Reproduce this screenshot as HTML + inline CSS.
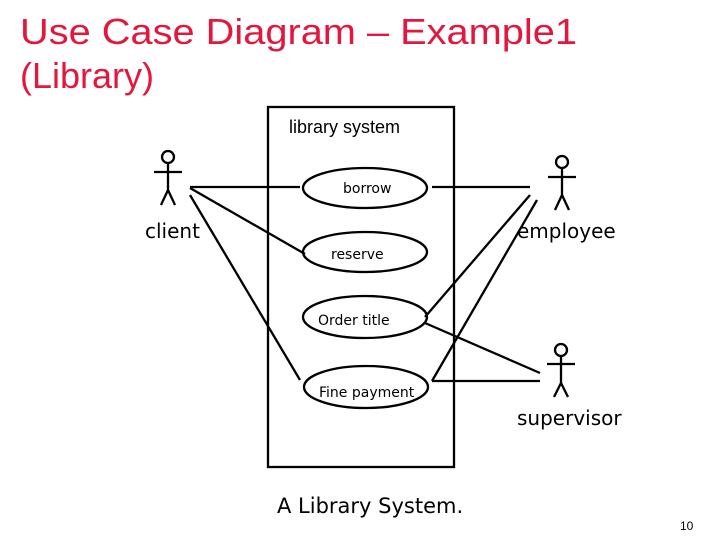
<!DOCTYPE html>
<html><head><meta charset="utf-8"><style>
html,body{margin:0;padding:0;background:#fff;width:720px;height:540px;overflow:hidden}
svg{display:block}
.lib{font-family:"Liberation Sans",Arial,sans-serif}
.dv{font-family:"DejaVu Sans",sans-serif}
</style></head><body>
<svg width="720" height="540" viewBox="0 0 720 540" xmlns="http://www.w3.org/2000/svg">
<g class="lib" fill="#e3173d" font-size="36" style="font-family:'Liberation Sans',Arial,sans-serif">
<text x="20" y="44" textLength="557" lengthAdjust="spacingAndGlyphs">Use Case Diagram – Example1</text>
<text x="20" y="88">(Library)</text>
</g>
<g stroke="#000" stroke-width="2.3" fill="none">
<rect x="268" y="107" width="186" height="360"/>
<ellipse cx="365" cy="188" rx="62" ry="20" fill="#fff"/>
<ellipse cx="365" cy="252" rx="62" ry="20" fill="#fff"/>
<ellipse cx="365" cy="317" rx="62" ry="21" fill="#fff"/>
<ellipse cx="366" cy="387" rx="62" ry="21" fill="#fff"/>
<line x1="190" y1="187" x2="300" y2="187"/>
<line x1="432" y1="187" x2="530" y2="187"/>
<line x1="190" y1="188" x2="305" y2="254"/>
<line x1="190" y1="195" x2="300" y2="380"/>
<line x1="530" y1="195" x2="425" y2="317"/>
<line x1="537" y1="200" x2="432" y2="381"/>
<line x1="425" y1="323" x2="540" y2="373"/>
<line x1="432" y1="381" x2="540" y2="381"/>
<circle cx="168" cy="157" r="6"/>
<line x1="168" y1="163" x2="168" y2="190"/>
<line x1="154" y1="172" x2="182" y2="172"/>
<line x1="168" y1="190" x2="161" y2="205"/>
<line x1="168" y1="190" x2="175" y2="205"/>
<circle cx="562" cy="162" r="6"/>
<line x1="562" y1="168" x2="562" y2="195"/>
<line x1="548" y1="177" x2="576" y2="177"/>
<line x1="562" y1="195" x2="555" y2="210"/>
<line x1="562" y1="195" x2="569" y2="210"/>
<circle cx="561" cy="350" r="6"/>
<line x1="561" y1="356" x2="561" y2="383"/>
<line x1="547" y1="364" x2="575" y2="364"/>
<line x1="561" y1="383" x2="554" y2="397"/>
<line x1="561" y1="383" x2="568" y2="397"/>
</g>
<g fill="#000" style="font-family:'DejaVu Sans',sans-serif">
<text x="289" y="133" font-size="18" style="font-family:'Liberation Sans',Arial,sans-serif">library system</text>
<text x="343" y="193" font-size="14">borrow</text>
<text x="331" y="259" font-size="14">reserve</text>
<text x="318" y="325" font-size="14">Order title</text>
<text x="319" y="397" font-size="14">Fine payment</text>
<text x="145" y="238" font-size="20">client</text>
<text x="517" y="238" font-size="20">employee</text>
<text x="517" y="425" font-size="20">supervisor</text>
<text x="277" y="513" font-size="21">A Library System.</text>
<text x="680" y="530" font-size="12" style="font-family:'Liberation Sans',Arial,sans-serif">10</text>
</g>
</svg>
</body></html>
